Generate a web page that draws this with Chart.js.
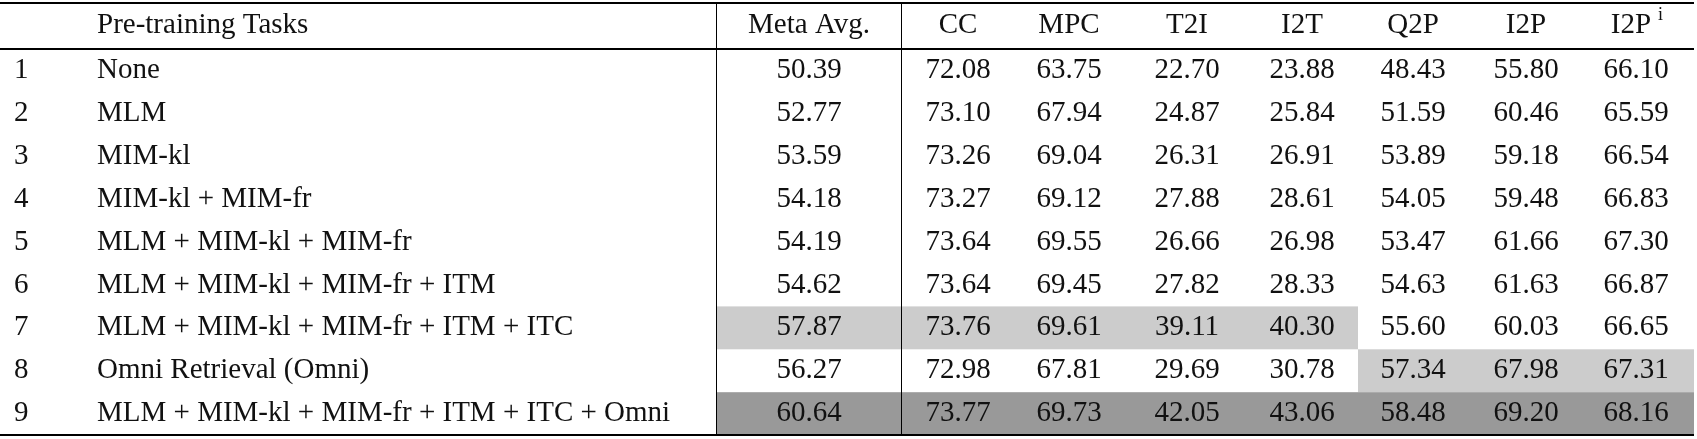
<!DOCTYPE html>
<html>
<head>
<meta charset="utf-8">
<script src="https://cdn.jsdelivr.net/npm/chart.js@4"></script>
<style>
  body { margin: 0; background: #fff; }
  #tbl { display: block; }
</style>
</head>
<body>
<canvas id="tbl" width="1697" height="439"></canvas>
<script>
// table data
var headers = ["Meta Avg.", "CC", "MPC", "T2I", "I2T", "Q2P", "I2P", "I2P"];
var tasks = [
  "None",
  "MLM",
  "MIM-kl",
  "MIM-kl + MIM-fr",
  "MLM + MIM-kl + MIM-fr",
  "MLM + MIM-kl + MIM-fr + ITM",
  "MLM + MIM-kl + MIM-fr + ITM + ITC",
  "Omni Retrieval (Omni)",
  "MLM + MIM-kl + MIM-fr + ITM + ITC + Omni"
];
var metaAvg = [50.39, 52.77, 53.59, 54.18, 54.19, 54.62, 57.87, 56.27, 60.64];
var cc  = [72.08, 73.10, 73.26, 73.27, 73.64, 73.64, 73.76, 72.98, 73.77];
var mpc = [63.75, 67.94, 69.04, 69.12, 69.55, 69.45, 69.61, 67.81, 69.73];
var t2i = [22.70, 24.87, 26.31, 27.88, 26.66, 27.82, 39.11, 29.69, 42.05];
var i2t = [23.88, 25.84, 26.91, 28.61, 26.98, 28.33, 40.30, 30.78, 43.06];
var q2p = [48.43, 51.59, 53.89, 54.05, 53.47, 54.63, 55.60, 57.34, 58.48];
var i2p = [55.80, 60.46, 59.18, 59.48, 61.66, 61.63, 60.03, 67.98, 69.20];
var i2pi = [66.10, 65.59, 66.54, 66.83, 67.30, 66.87, 66.65, 67.31, 68.16];
// shading: 0 none, 1 light, 2 dark (row x column)
var shade = [
  [0,0,0,0,0,0,0,0],[0,0,0,0,0,0,0,0],[0,0,0,0,0,0,0,0],
  [0,0,0,0,0,0,0,0],[0,0,0,0,0,0,0,0],[0,0,0,0,0,0,0,0],
  [1,1,1,1,1,0,0,0],
  [0,0,0,0,0,1,1,1],
  [2,2,2,2,2,2,2,2]
];

// layout (scale units)
var colCenters = [809, 958, 1069, 1187, 1302, 1413, 1526, 1636];
var colEdges = [716, 901, 1015, 1128, 1245, 1358, 1470, 1582, 1694];
var rowTop = 49, rowH = 42.9, headerY = 25;
var shadeColors = [null, "#cccccc", "#999999"];

var tablePlugin = {
  id: "tablePlugin",
  afterDraw: function(chart) {
    var ctx = chart.ctx;
    var xs = chart.scales.x, ys = chart.scales.y;
    var X = function(v) { return xs.getPixelForValue(v); };
    var Y = function(v) { return ys.getPixelForValue(v); };
    var cols = [metaAvg, cc, mpc, t2i, i2t, q2p, i2p, i2pi];
    ctx.save();
    // shaded cells
    for (var r = 0; r < tasks.length; r++) {
      for (var c = 0; c < cols.length; c++) {
        if (shade[r][c]) {
          ctx.fillStyle = shadeColors[shade[r][c]];
          var y0 = Y(rowTop + r * rowH), y1 = Y(rowTop + (r + 1) * rowH);
          ctx.fillRect(X(colEdges[c]), y0, X(colEdges[c + 1]) - X(colEdges[c]), y1 - y0);
        }
      }
    }
    // rules
    ctx.strokeStyle = "#000";
    ctx.lineWidth = 2;
    [3, rowTop, rowTop + tasks.length * rowH].forEach(function(v) {
      ctx.beginPath(); ctx.moveTo(X(0), Y(v)); ctx.lineTo(X(1694), Y(v)); ctx.stroke();
    });
    ctx.lineWidth = 1;
    [716, 901].forEach(function(v) {
      ctx.beginPath(); ctx.moveTo(X(v) + 0.5, Y(3)); ctx.lineTo(X(v) + 0.5, Y(rowTop + tasks.length * rowH)); ctx.stroke();
    });
    // text
    ctx.fillStyle = "#111";
    ctx.font = "29px 'Liberation Serif', serif";
    ctx.textBaseline = "middle";
    ctx.textAlign = "left";
    ctx.fillText("Pre-training Tasks", X(97), Y(headerY));
    ctx.textAlign = "center";
    headers.forEach(function(h, c) {
      ctx.fillText(h, X(colCenters[c]) - (c === 7 ? 5 : 0), Y(headerY));
    });
    // superscript i on last header
    ctx.font = "18px 'Liberation Serif', serif";
    ctx.textAlign = "left";
    ctx.fillText("i", X(colCenters[7]) + 22, Y(headerY - 10));
    ctx.font = "29px 'Liberation Serif', serif";
    for (var r2 = 0; r2 < tasks.length; r2++) {
      var yc = Y(rowTop + (r2 + 0.5) * rowH);
      ctx.textAlign = "left";
      ctx.fillText(String(r2 + 1), X(14), yc);
      ctx.fillText(tasks[r2], X(97), yc);
      ctx.textAlign = "center";
      for (var c2 = 0; c2 < cols.length; c2++) {
        ctx.fillText(cols[c2][r2].toFixed(2), X(colCenters[c2]), yc);
      }
    }
    ctx.restore();
  }
};

new Chart(document.getElementById("tbl"), {
  type: "scatter",
  data: { datasets: [{ data: [] }] },
  options: {
    responsive: false,
    devicePixelRatio: 1,
    animation: false,
    layout: { padding: 0 },
    plugins: { legend: { display: false }, tooltip: { enabled: false } },
    scales: {
      x: { type: "linear", min: 0, max: 1697, display: false },
      y: { type: "linear", min: 0, max: 439, reverse: true, display: false }
    }
  },
  plugins: [tablePlugin]
});
</script>
</body>
</html>
